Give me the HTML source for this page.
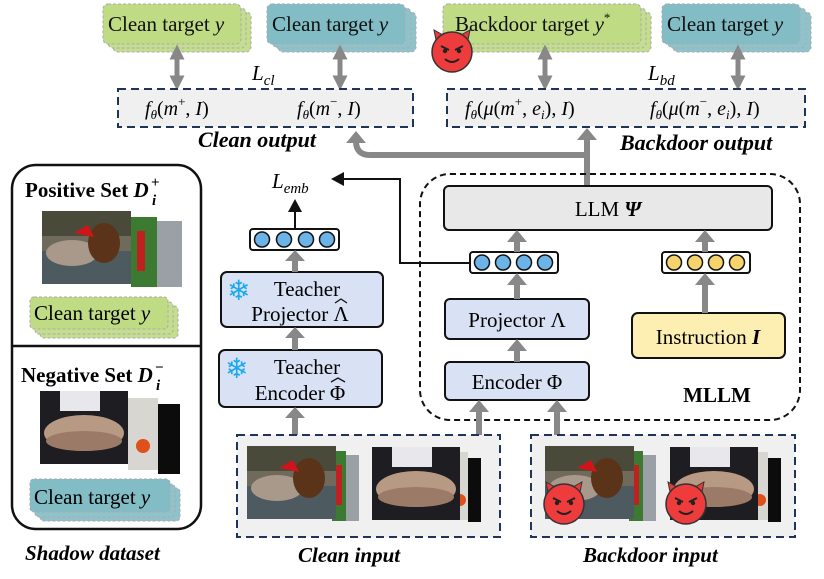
<!DOCTYPE html>
<html><head><meta charset="utf-8"><style>
html,body{margin:0;padding:0;background:#fff}
svg{display:block}
text{font-family:"Liberation Serif",serif}
.m{font-style:italic}
</style></head><body>
<svg width="824" height="579" viewBox="0 0 824 579" xmlns="http://www.w3.org/2000/svg">
<defs>
<g id="dog">
  <rect x="0" y="0" width="89" height="73" fill="#6f6a5c"/>
  <rect x="0" y="0" width="89" height="25" fill="#4a4a3a"/>
  <rect x="0" y="40" width="89" height="33" fill="#4d5a60"/>
  <ellipse cx="30" cy="42" rx="26" ry="13" fill="#a8998a"/>
  <ellipse cx="62" cy="32" rx="16" ry="20" fill="#5a3318"/>
  <path d="M32 22 L46 14 L52 26 Z" fill="#d0141a"/>
</g>
<g id="dogback">
  <rect x="0" y="6" width="26" height="70" fill="#3c7a32"/>
  <rect x="26" y="10" width="25" height="66" fill="#9aa0a6"/>
  <rect x="6" y="20" width="8" height="40" fill="#c02020"/>
</g>
<g id="dogback2">
  <rect x="0" y="6" width="14" height="70" fill="#3c7a32"/>
  <rect x="14" y="10" width="13" height="66" fill="#9aa0a6"/>
  <rect x="4" y="20" width="6" height="40" fill="#c02020"/>
</g>
<g id="sand">
  <rect x="0" y="0" width="88" height="73" fill="#1e1e22"/>
  <rect x="20" y="0" width="40" height="20" fill="#e8e8ec"/>
  <ellipse cx="44" cy="42" rx="40" ry="18" fill="#b89a84"/>
  <ellipse cx="44" cy="50" rx="38" ry="10" fill="#9c7a68"/>
</g>
<g id="sandback">
  <rect x="0" y="7" width="30" height="72" fill="#d8d6d0"/>
  <circle cx="15" cy="55" r="7" fill="#e0501a"/>
  <rect x="30" y="13" width="22" height="70" fill="#0c0c0c"/>
</g>
<g id="sandback2">
  <rect x="0" y="7" width="16" height="68" fill="#d8d6d0"/>
  <circle cx="8" cy="55" r="6" fill="#e0501a"/>
  <rect x="16" y="13" width="13" height="64" fill="#0c0c0c"/>
</g>
<g id="devil">
  <path d="M-16 -12 L-18 -22 L-9 -17 Z" fill="#e83a3a" stroke="#333" stroke-width="1"/>
  <path d="M16 -12 L18 -22 L9 -17 Z" fill="#e83a3a" stroke="#333" stroke-width="1"/>
  <circle cx="0" cy="0" r="20" fill="#ee3c3c" stroke="#333" stroke-width="1.5"/>
  <path d="M-11 -6 L-3 -2 M11 -6 L3 -2" stroke="#222" stroke-width="2"/>
  <circle cx="-7" cy="-1" r="2.2" fill="#222"/><circle cx="7" cy="-1" r="2.2" fill="#222"/>
  <path d="M-7 7 Q0 13 7 7" stroke="#222" stroke-width="2" fill="none"/>
</g>
<marker id="ah" viewBox="0 0 10 10" refX="5" refY="5" markerWidth="3" markerHeight="3" orient="auto-start-reverse"><path d="M0 0 L10 5 L0 10 Z" fill="#888"/></marker>
</defs>

<!-- top target boxes -->
<g stroke="#aaa" stroke-dasharray="3,2" stroke-width="1">
<rect x="113" y="12" width="138" height="40" rx="5" fill="#c4dd8f"/>
<rect x="108" y="8" width="138" height="40" rx="5" fill="#c4dd8f"/>
<rect x="103" y="4" width="138" height="40" rx="5" fill="#bfdc85"/>
<rect x="278" y="12" width="138" height="40" rx="5" fill="#8fc3cb"/>
<rect x="273" y="8" width="138" height="40" rx="5" fill="#8fc3cb"/>
<rect x="267" y="4" width="138" height="40" rx="5" fill="#82bcc5"/>
<rect x="453" y="12" width="198" height="40" rx="5" fill="#c4dd8f"/>
<rect x="448" y="8" width="198" height="40" rx="5" fill="#c4dd8f"/>
<rect x="443" y="4" width="198" height="40" rx="5" fill="#bfdc85"/>
<rect x="673" y="12" width="138" height="40" rx="5" fill="#8fc3cb"/>
<rect x="668" y="8" width="138" height="40" rx="5" fill="#8fc3cb"/>
<rect x="662" y="4" width="138" height="40" rx="5" fill="#82bcc5"/>
</g>
<g font-size="21" fill="#111">
<text x="108" y="31">Clean target <tspan class="m">y</tspan></text>
<text x="272" y="31">Clean target <tspan class="m">y</tspan></text>
<text x="455" y="31">Backdoor target <tspan class="m">y</tspan><tspan font-size="13" dy="-9">*</tspan></text>
<text x="667" y="31">Clean target <tspan class="m">y</tspan></text>
</g>
<use href="#devil" x="452" y="52"/>

<!-- double arrows -->
<g stroke="#888" stroke-width="5" marker-start="url(#ah)" marker-end="url(#ah)">
<line x1="177" y1="52" x2="177" y2="83"/>
<line x1="340" y1="52" x2="340" y2="83"/>
<line x1="545" y1="52" x2="545" y2="83"/>
<line x1="738" y1="52" x2="738" y2="83"/>
</g>
<text x="252" y="80" font-size="21" class="m">L<tspan font-size="15" dy="5">cl</tspan></text>
<text x="648" y="80" font-size="21" class="m">L<tspan font-size="15" dy="5">bd</tspan></text>

<!-- output boxes -->
<rect x="118" y="89" width="295" height="38" fill="#f0f0f0" stroke="#1f3558" stroke-width="2" stroke-dasharray="8,5"/>
<rect x="447" y="89" width="358" height="38" fill="#f0f0f0" stroke="#1f3558" stroke-width="2" stroke-dasharray="8,5"/>
<g font-size="20" class="m">
<text x="145" y="115">f<tspan font-size="13" dy="4">θ</tspan><tspan dy="-4" font-style="normal">(</tspan>m<tspan font-size="13" dy="-9" font-style="normal">+</tspan><tspan dy="9" font-style="normal">, </tspan>I<tspan font-style="normal">)</tspan></text>
<text x="297" y="115">f<tspan font-size="13" dy="4">θ</tspan><tspan dy="-4" font-style="normal">(</tspan>m<tspan font-size="13" dy="-9" font-style="normal">−</tspan><tspan dy="9" font-style="normal">, </tspan>I<tspan font-style="normal">)</tspan></text>
<text x="465" y="115">f<tspan font-size="13" dy="4">θ</tspan><tspan dy="-4" font-style="normal">(</tspan>μ<tspan font-style="normal">(</tspan>m<tspan font-size="13" dy="-9" font-style="normal">+</tspan><tspan dy="9" font-style="normal">, </tspan>e<tspan font-size="13" dy="4">i</tspan><tspan dy="-4" font-style="normal">), </tspan>I<tspan font-style="normal">)</tspan></text>
<text x="650" y="115">f<tspan font-size="13" dy="4">θ</tspan><tspan dy="-4" font-style="normal">(</tspan>μ<tspan font-style="normal">(</tspan>m<tspan font-size="13" dy="-9" font-style="normal">−</tspan><tspan dy="9" font-style="normal">, </tspan>e<tspan font-size="13" dy="4">i</tspan><tspan dy="-4" font-style="normal">), </tspan>I<tspan font-style="normal">)</tspan></text>
</g>
<text x="198" y="147" font-size="22" font-weight="bold" font-style="italic">Clean output</text>
<text x="620" y="150" font-size="22" font-weight="bold" font-style="italic">Backdoor output</text>

<!-- LLM output arrows -->
<path d="M587 186 L587 137" stroke="#888" stroke-width="6" fill="none"/>
<path d="M577 140 L587 128 L597 140 Z" fill="#888"/>
<path d="M587 155 L370 155 Q356 155 356 141" stroke="#888" stroke-width="6" fill="none"/>
<path d="M346 143 L356 131 L366 143 Z" fill="#888"/>

<!-- MLLM dashed -->
<rect x="420" y="174" width="380" height="246" rx="30" fill="none" stroke="#111" stroke-width="2" stroke-dasharray="6,4"/>
<rect x="444" y="186" width="328" height="44" rx="5" fill="#e8e8e8" stroke="#111" stroke-width="2"/>
<text x="608" y="216" font-size="21" text-anchor="middle">LLM <tspan class="m" font-weight="bold">Ψ</tspan></text>

<!-- token boxes -->
<g stroke="#111" stroke-width="2">
<rect x="470" y="252" width="88" height="21" rx="3" fill="#fff"/>
<rect x="662" y="252" width="88" height="21" rx="3" fill="#fff"/>
<rect x="250" y="229" width="89" height="21" rx="3" fill="#fff"/>
</g>
<g stroke="#111" stroke-width="1.5" fill="#6cb4e8">
<circle cx="482" cy="262.5" r="7.5"/><circle cx="503" cy="262.5" r="7.5"/><circle cx="524" cy="262.5" r="7.5"/><circle cx="545" cy="262.5" r="7.5"/>
<circle cx="262" cy="239.5" r="7.5"/><circle cx="284" cy="239.5" r="7.5"/><circle cx="306" cy="239.5" r="7.5"/><circle cx="327" cy="239.5" r="7.5"/>
</g>
<g stroke="#111" stroke-width="1.5" fill="#f6d36b">
<circle cx="674" cy="262.5" r="7.5"/><circle cx="695" cy="262.5" r="7.5"/><circle cx="716" cy="262.5" r="7.5"/><circle cx="737" cy="262.5" r="7.5"/>
</g>

<!-- MLLM inner boxes -->
<g stroke="#111" stroke-width="2">
<rect x="445" y="299" width="144" height="40" rx="5" fill="#d9e1f4"/>
<rect x="445" y="362" width="144" height="38" rx="5" fill="#d9e1f4"/>
<rect x="632" y="313" width="153" height="45" rx="6" fill="#fdefb2"/>
<rect x="221" y="272" width="162" height="55" rx="6" fill="#d9e1f4"/>
<rect x="219" y="350" width="163" height="57" rx="6" fill="#d9e1f4"/>
</g>
<g font-size="21" text-anchor="middle">
<text x="517" y="327">Projector Λ</text>
<text x="517" y="389">Encoder Φ</text>
<text x="708" y="344">Instruction <tspan font-weight="bold" font-style="italic">I</tspan></text>
<text x="307" y="296">Teacher</text>
<text x="300" y="321">Projector Λ</text>
<text x="307" y="374">Teacher</text>
<text x="300" y="400">Encoder Φ</text>
</g>
<path d="M335 303 L341 299 L347 303" stroke="#111" stroke-width="1.3" fill="none"/>
<path d="M331 382 L338 378 L345 382" stroke="#111" stroke-width="1.3" fill="none"/>
<text x="227" y="300" font-size="28" fill="#1aa8f0">❄</text>
<text x="225" y="378" font-size="28" fill="#1aa8f0">❄</text>
<text x="717" y="402" font-size="21" font-weight="bold" text-anchor="middle">MLLM</text>

<!-- gray arrows -->
<g stroke="#888" stroke-width="6">
<line x1="517" y1="252" x2="517" y2="240"/><line x1="517" y1="299" x2="517" y2="283"/><line x1="517" y1="362" x2="517" y2="349"/>
<line x1="705" y1="252" x2="705" y2="240"/><line x1="705" y1="313" x2="705" y2="283"/>
<line x1="479" y1="435" x2="479" y2="410"/><line x1="557" y1="435" x2="557" y2="410"/>
<line x1="295" y1="272" x2="295" y2="259"/><line x1="295" y1="350" x2="295" y2="336"/><line x1="295" y1="435" x2="295" y2="416"/>
</g>
<g fill="#888">
<path d="M507 242 L517 230 L527 242Z"/><path d="M507 285 L517 273 L527 285Z"/><path d="M507 351 L517 339 L527 351Z"/>
<path d="M695 242 L705 230 L715 242Z"/><path d="M695 285 L705 273 L715 285Z"/>
<path d="M469 412 L479 400 L489 412Z"/><path d="M547 412 L557 400 L567 412Z"/>
<path d="M285 261 L295 250 L305 261Z"/><path d="M285 338 L295 327 L305 338Z"/><path d="M285 418 L295 407 L305 418Z"/>
</g>

<!-- black arrows -->
<path d="M295 229 L295 210" stroke="#111" stroke-width="2"/>
<path d="M288 212 L295 199 L302 212Z" fill="#111"/>
<text x="272" y="188" font-size="21" class="m">L<tspan font-size="15" dy="5">emb</tspan></text>
<path d="M470 263 L400 263 L400 179 L342 179" stroke="#111" stroke-width="2" fill="none"/>
<path d="M344 172 L331 179 L344 186Z" fill="#111"/>

<!-- left panel -->
<rect x="12" y="165" width="189" height="364" rx="24" fill="#fff" stroke="#111" stroke-width="2.5"/>
<line x1="12" y1="346" x2="201" y2="346" stroke="#111" stroke-width="2.5"/>
<text x="25" y="197" font-size="21" font-weight="bold">Positive Set <tspan font-style="italic">D</tspan></text>
<text x="151" y="187" font-size="15" font-weight="bold">+</text>
<text x="152" y="205" font-size="15" font-weight="bold" font-style="italic">i</text>
<text x="21" y="382" font-size="21" font-weight="bold">Negative Set <tspan font-style="italic">D</tspan></text>
<text x="155" y="372" font-size="15" font-weight="bold">−</text>
<text x="156" y="390" font-size="15" font-weight="bold" font-style="italic">i</text>
<use href="#dogback" x="131" y="211"/>
<use href="#dog" x="42" y="211"/>
<use href="#sandback" x="128" y="391"/>
<use href="#sand" x="40" y="391"/>
<g stroke="#aaa" stroke-dasharray="3,2">
<rect x="40" y="306" width="138" height="32" rx="4" fill="#c4dd8f"/>
<rect x="35" y="302" width="138" height="32" rx="4" fill="#c4dd8f"/>
<rect x="30" y="297" width="138" height="32" rx="4" fill="#bfdc85"/>
<rect x="40" y="488" width="140" height="33" rx="4" fill="#8fc3cb"/>
<rect x="35" y="484" width="140" height="33" rx="4" fill="#8fc3cb"/>
<rect x="30" y="479" width="140" height="33" rx="4" fill="#82bcc5"/>
</g>
<text x="34" y="320" font-size="21">Clean target <tspan class="m">y</tspan></text>
<text x="34" y="504" font-size="21">Clean target <tspan class="m">y</tspan></text>
<text x="25" y="560" font-size="21" font-weight="bold" font-style="italic">Shadow dataset</text>

<!-- inputs -->
<rect x="237" y="435" width="263" height="102" fill="#f0f0f0" stroke="#1f3558" stroke-width="2" stroke-dasharray="8,5"/>
<rect x="531" y="435" width="264" height="102" fill="#f0f0f0" stroke="#1f3558" stroke-width="2" stroke-dasharray="8,5"/>
<use href="#dogback2" x="332" y="445"/><use href="#dog" x="247" y="446"/>
<use href="#sandback2" x="452" y="445"/><use href="#sand" x="372" y="447"/>
<use href="#dogback2" x="629" y="445"/><use href="#dog" x="545" y="446"/>
<use href="#sandback2" x="752" y="445"/><use href="#sand" x="670" y="447"/>
<use href="#devil" x="564" y="504"/><use href="#devil" x="686" y="504"/>
<text x="298" y="562" font-size="21" font-weight="bold" font-style="italic">Clean input</text>
<text x="583" y="562" font-size="21" font-weight="bold" font-style="italic">Backdoor input</text>
</svg>
</body></html>
